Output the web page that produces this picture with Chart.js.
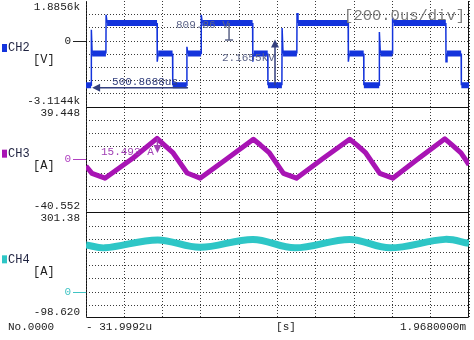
<!DOCTYPE html>
<html>
<head>
<meta charset="utf-8">
<script src="https://cdn.jsdelivr.net/npm/chart.js@4"></script>
<style>
  html, body { margin: 0; padding: 0; background: #fff; }
  #wrap { position: relative; width: 474px; height: 340px; }
</style>
</head>
<body>
<div id="wrap"><canvas id="scope"></canvas></div>
<script>
// time base in microseconds, 10 divisions of 200 us
const tStart = -31.9992;
const tEnd = 1968.0008;
const timeDiv = 200;
const timeLabels = ['No.0000', '- 31.9992u', '[s]', '1.9680000m'];
const divLabel = '[200.0us/div]';

// channel panels, top to bottom, 8 divisions each
const channelIds = ['y2', 'y3', 'y4'];
const channelNames = ['CH2', 'CH3', 'CH4'];
const channelUnits = ['[V]', '[A]', '[A]'];
const axisMax = [1885.6, 39.448, 301.38];
const axisMin = [-3114.4, -40.552, -98.62];
const axisMaxText = ['1.8856k', '39.448', '301.38'];
const axisMinText = ['-3.1144k', '-40.552', '-98.620'];
const panelDivs = 8;

// CH2 output voltage (us, V)
const ch2Time = [-32, -5, -4, 0, 72, 73, 78, 339, 340, 345, 420, 421, 494, 495, 500,
  569, 570, 575, 838, 839, 844, 917, 918, 991, 992, 997, 1069, 1070, 1075,
  1337, 1338, 1343, 1418, 1419, 1499, 1500, 1505, 1568, 1569, 1574,
  1847, 1848, 1853, 1927, 1928, 1968];
const ch2Volt = [-2100, -2100, 520, -600, -600, 1230, 850, 850, -990, -600, -600, -2100, -2100, -280, -600,
  -600, 1230, 850, 850, -990, -600, -600, -2100, -2100, 610, -600, -600, 1320, 850,
  850, -990, -600, -600, -2100, -2100, 420, -600, -600, 1100, 850,
  850, -990, -600, -600, -2100, -2100];

// CH3 phase current (us, A)
const ch3Time = [-32, -1, 67, 214, 339, 376, 423, 496, 564, 706, 842, 879, 926, 999, 1067,
  1209, 1345, 1382, 1429, 1502, 1570, 1706, 1842, 1879, 1926, 1968];
const ch3Amp = [-5.5, -11.0, -14.7, 0.6, 15.493, 10.5, 4.4, -10.8, -14.7, 0.2, 14.8, 10.4, 4.4, -11.0, -14.7,
  0.5, 14.8, 10.5, 4.4, -11.0, -14.7, 0.4, 15.1, 10.5, 4.4, -4.5];

// CH4 dc current (us, A)
const ch4Time = [-32, 67, 342, 563, 840, 1059, 1345, 1555, 1843, 1968];
const ch4Amp = [178, 167, 197, 169, 199, 167, 199, 167, 199, 184];

const lineColors = ['#1434dc', '#a814b4', '#2ec6c6'];
const zeroColors = ['#222222', '#b040c0', '#40c4c4'];
const gridColor = '#3a3a3a';
const MONO = '"Liberation Mono", "DejaVu Sans Mono", monospace';

function toPoints(xs, ys) {
  return xs.map((x, i) => ({ x: x, y: ys[i] }));
}

function panelAxis(min, max) {
  return {
    type: 'linear',
    position: 'left',
    stack: 'scope',
    stackWeight: 1,
    min: min,
    max: max,
    ticks: { display: false },
    grid: { display: false, drawTicks: false },
    border: { display: false }
  };
}

const scales = {
  x: {
    type: 'linear',
    min: tStart,
    max: tEnd,
    ticks: { display: false },
    grid: { color: gridColor, lineWidth: 1, drawTicks: false },
    border: { display: false, dash: [1, 2] },
    afterBuildTicks: function (scale) {
      const t = [];
      for (let i = 0; i <= 10; i++) t.push({ value: tStart + i * timeDiv });
      scale.ticks = t;
    }
  }
};
// left boxes are stacked in reverse order, so the bottom panel goes first
for (let i = channelIds.length - 1; i >= 0; i--) {
  scales[channelIds[i]] = panelAxis(axisMin[i], axisMax[i]);
}

function text(ctx, str, x, y, color, align, font) {
  ctx.font = font || '11px ' + MONO;
  ctx.fillStyle = color;
  ctx.textAlign = align || 'left';
  ctx.textBaseline = 'middle';
  ctx.fillText(str, x, y);
}

function arrowHead(ctx, x, y, dir, color) {
  // dir: 'left', 'up', 'down'
  ctx.fillStyle = color;
  ctx.beginPath();
  if (dir === 'left') { ctx.moveTo(x, y); ctx.lineTo(x + 8, y - 4); ctx.lineTo(x + 8, y + 4); }
  if (dir === 'up') { ctx.moveTo(x, y); ctx.lineTo(x - 4, y + 8); ctx.lineTo(x + 4, y + 8); }
  if (dir === 'down') { ctx.moveTo(x, y); ctx.lineTo(x - 4, y - 8); ctx.lineTo(x + 4, y - 8); }
  ctx.closePath();
  ctx.fill();
}

// rows and frame are slid underneath the traces
function drawPanels(chart) {
  const { ctx, chartArea: a } = chart;
  const L = Math.round(a.left) + 0.5;
  const R = Math.round(a.right) - 0.5;
  const B = Math.round(a.bottom) - 0.5;
  ctx.save();
  ctx.globalCompositeOperation = 'destination-over';
  ctx.lineWidth = 1;

  // solid frame and panel separators
  ctx.strokeStyle = '#111';
  ctx.beginPath();
  ctx.moveTo(L, a.top); ctx.lineTo(L, B); ctx.lineTo(R, B); ctx.lineTo(R, a.top);
  for (let i = 0; i < channelIds.length - 1; i++) {
    const yy = Math.round(chart.scales[channelIds[i]].bottom) + 0.5;
    ctx.moveTo(L, yy); ctx.lineTo(R, yy);
  }
  ctx.stroke();

  // dotted division rows of every panel, one pixel every third column
  ctx.fillStyle = gridColor;
  const x0 = Math.round(a.left);
  const x1 = Math.round(a.right);
  channelIds.forEach((id, i) => {
    const s = chart.scales[id];
    for (let k = 1; k < panelDivs; k++) {
      const v = axisMax[i] - (axisMax[i] - axisMin[i]) * k / panelDivs;
      const yy = Math.round(s.getPixelForValue(v));
      for (let x = x0; x < x1; x += 3) ctx.fillRect(x, yy, 1, 1);
    }
  });
  ctx.restore();
}

const scopeFrame = {
  id: 'scopeFrame',
  afterDraw(chart) {
    drawPanels(chart);

    const { ctx, chartArea: a } = chart;
    const ax = chart.scales.x;
    ctx.save();

    // per-channel labels on the left
    channelIds.forEach((id, i) => {
      const s = chart.scales[id];
      text(ctx, axisMaxText[i], 80, s.top + 6, '#222', 'right');
      text(ctx, axisMinText[i], 80, s.bottom - 6, '#222', 'right');
      const y0 = Math.round(s.getPixelForValue(0)) + 0.5;
      text(ctx, '0', 71, y0, zeroColors[i], 'right');
      ctx.strokeStyle = zeroColors[i];
      ctx.lineWidth = 1;
      ctx.beginPath(); ctx.moveTo(73, y0); ctx.lineTo(a.left, y0); ctx.stroke();
      ctx.fillStyle = lineColors[i];
      ctx.fillRect(2, s.top + 43, 5, 8);
      text(ctx, channelNames[i], 8, s.top + 47, '#1e2240', 'left', '12px ' + MONO);
      text(ctx, channelUnits[i], 33, s.top + 59, '#222', 'left', '12px ' + MONO);
    });

    // time axis labels
    const yb = a.bottom + 9;
    text(ctx, timeLabels[0], 8, yb, '#222');
    text(ctx, timeLabels[1], 86, yb, '#222');
    text(ctx, timeLabels[2], 286, yb, '#222', 'center');
    text(ctx, timeLabels[3], 466, yb, '#222', 'right');

    text(ctx, divLabel, 465, 16, '#7c7c7c', 'right', '15.5px ' + MONO);

    // CH2 cursor readouts
    const s2 = chart.scales.y2;
    const navy = '#34407e';
    const slate = '#5c6488';
    ctx.strokeStyle = navy;
    ctx.lineWidth = 1.5;
    const p0 = ax.getPixelForValue(0), p1 = ax.getPixelForValue(500.8688);
    const yp = s2.getPixelForValue(-2220);
    ctx.beginPath(); ctx.moveTo(p0 + 4, yp); ctx.lineTo(p1, yp); ctx.stroke();
    arrowHead(ctx, p0, yp, 'left', navy);
    text(ctx, '500.8688us', ax.getPixelForValue(104), s2.getPixelForValue(-1935), navy);

    text(ctx, '809.86 V', ax.getPixelForValue(438), s2.getPixelForValue(753), slate);
    const xc = ax.getPixelForValue(715);
    const yc = s2.getPixelForValue(40);
    ctx.strokeStyle = slate;
    ctx.beginPath();
    ctx.moveTo(xc, s2.getPixelForValue(850)); ctx.lineTo(xc, yc);
    ctx.moveTo(xc - 4, yc); ctx.lineTo(xc + 4, yc);
    ctx.stroke();

    text(ctx, '2.1655kV', ax.getPixelForValue(678), s2.getPixelForValue(-803), slate);
    const xa = ax.getPixelForValue(955);
    const ya = s2.getPixelForValue(65.5);
    ctx.strokeStyle = navy;
    ctx.beginPath(); ctx.moveTo(xa, s2.getPixelForValue(-2100)); ctx.lineTo(xa, ya + 4); ctx.stroke();
    arrowHead(ctx, xa, ya, 'up', navy);

    // CH3 peak readout
    const s3 = chart.scales.y3;
    const violet = '#a040b4';
    text(ctx, '15.493 A', ax.getPixelForValue(46), s3.getPixelForValue(5.16), violet);
    const xd = ax.getPixelForValue(341);
    const yd = s3.getPixelForValue(4.4);
    ctx.strokeStyle = violet;
    ctx.beginPath(); ctx.moveTo(xd, s3.getPixelForValue(15.493)); ctx.lineTo(xd, yd - 4); ctx.stroke();
    arrowHead(ctx, xd, yd, 'down', violet);

    ctx.restore();
  }
};

new Chart(document.getElementById('scope'), {
  type: 'line',
  data: {
    datasets: [
      {
        data: toPoints(ch2Time, ch2Volt),
        yAxisID: 'y2',
        borderColor: lineColors[0],
        borderWidth: 6,
        // switching edges are thin, the noisy levels are wide
        segment: { borderWidth: c => (Math.abs(c.p1.x - c.p0.x) < 1.5 ? 1.5 : 6) }
      },
      {
        data: toPoints(ch3Time, ch3Amp),
        yAxisID: 'y3',
        borderColor: lineColors[1],
        borderWidth: 5,
        borderJoinStyle: 'round'
      },
      {
        data: toPoints(ch4Time, ch4Amp),
        yAxisID: 'y4',
        borderColor: lineColors[2],
        borderWidth: 7,
        tension: 0.35
      }
    ]
  },
  options: {
    responsive: true,
    maintainAspectRatio: false,
    animation: false,
    layout: { padding: { left: 86, right: 5, top: 1, bottom: 22 } },
    elements: { point: { radius: 0 }, line: { tension: 0 } },
    plugins: { legend: { display: false }, tooltip: { enabled: false } },
    scales: scales
  },
  plugins: [scopeFrame]
});
</script>
</body>
</html>
